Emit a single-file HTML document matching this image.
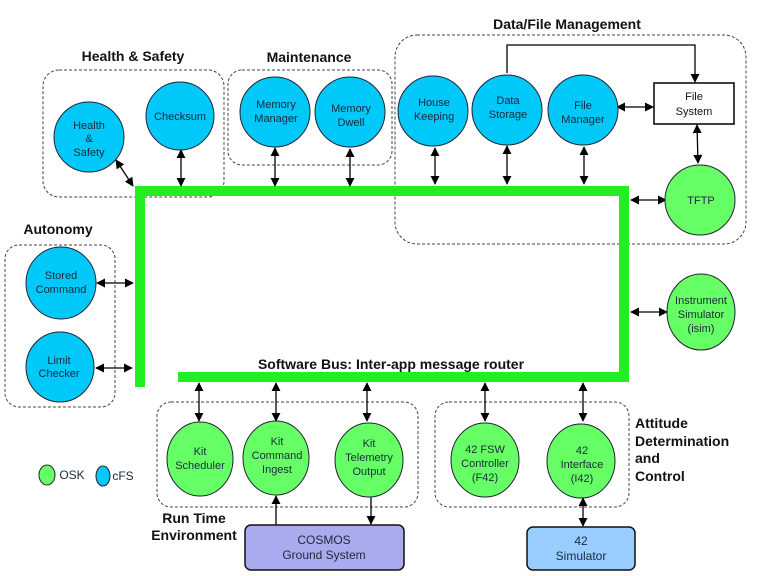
<!DOCTYPE html>
<html><head><meta charset="utf-8"><style>
html,body{margin:0;padding:0;background:#fff}
svg{display:block}
text{font-family:"Liberation Sans",Arial,sans-serif}
.n{font-size:11px;fill:#1a2a3a;text-anchor:middle}
.t{font-size:14px;font-weight:bold;fill:#111}
.g{fill:none;stroke:#444;stroke-width:1;stroke-dasharray:3,2}
.b{fill:#00c8f8;stroke:#223;stroke-width:1}
.o{fill:#66ff66;stroke:#223;stroke-width:1}
.a{stroke:#000;stroke-width:1.3;fill:none;marker-start:url(#h);marker-end:url(#h)}
.s{stroke:#000;stroke-width:1.3;fill:none;marker-end:url(#h)}
</style></head><body>
<svg width="773" height="576" viewBox="0 0 773 576" xmlns="http://www.w3.org/2000/svg">
<defs><marker id="h" viewBox="0 0 10 10" refX="9" refY="5" markerWidth="7" markerHeight="7" orient="auto-start-reverse"><path d="M0,0L10,5L0,10z" fill="#000"/></marker></defs>

<!-- group boxes -->
<rect class="g" x="43" y="70" width="181" height="127" rx="16"/>
<rect class="g" x="228" y="70" width="164" height="95" rx="14"/>
<rect class="g" x="395" y="35" width="351" height="209" rx="22"/>
<rect class="g" x="5" y="245" width="110" height="162" rx="14"/>
<rect class="g" x="157" y="402" width="261" height="105" rx="14"/>
<rect class="g" x="435" y="402" width="194" height="105" rx="14"/>

<!-- titles -->
<text class="t" x="133" y="61" text-anchor="middle">Health &amp; Safety</text>
<text class="t" x="309" y="62" text-anchor="middle">Maintenance</text>
<text class="t" x="567" y="29" text-anchor="middle">Data/File Management</text>
<text class="t" x="58" y="234" text-anchor="middle">Autonomy</text>
<text class="t" x="391" y="369" text-anchor="middle">Software Bus: Inter-app message router</text>
<text class="t" x="635" y="428">Attitude</text>
<text class="t" x="635" y="446">Determination</text>
<text class="t" x="635" y="463">and</text>
<text class="t" x="635" y="481">Control</text>
<text class="t" x="194" y="523" text-anchor="middle">Run Time</text>
<text class="t" x="194" y="540" text-anchor="middle">Environment</text>

<!-- bus -->
<path d="M140,387 V191 H624 V382 M178,377 H629" stroke="#22ee22" stroke-width="10" fill="none"/>

<!-- arrows -->
<line class="a" x1="116" y1="160" x2="133" y2="186"/>
<line class="a" x1="181" y1="150" x2="181" y2="186"/>
<line class="a" x1="275" y1="148" x2="275" y2="186"/>
<line class="a" x1="350" y1="149" x2="350" y2="186"/>
<line class="a" x1="435" y1="148" x2="435" y2="184"/>
<line class="a" x1="507" y1="146" x2="507" y2="184"/>
<line class="a" x1="584" y1="147" x2="584" y2="184"/>
<line class="a" x1="617" y1="107" x2="653" y2="107"/>
<line class="a" x1="697" y1="125" x2="698" y2="163"/>
<line class="a" x1="631" y1="200" x2="666" y2="200"/>
<line class="a" x1="631" y1="312" x2="667" y2="312"/>
<line class="a" x1="97" y1="283" x2="133" y2="283"/>
<line class="a" x1="96" y1="368" x2="132" y2="368"/>
<line class="a" x1="199" y1="383" x2="199" y2="421"/>
<line class="a" x1="276" y1="383" x2="276" y2="421"/>
<line class="a" x1="367" y1="383" x2="367" y2="421"/>
<line class="a" x1="485" y1="383" x2="485" y2="421"/>
<line class="a" x1="583" y1="383" x2="583" y2="421"/>
<line class="a" x1="583" y1="498" x2="583" y2="526"/>
<path class="s" d="M507,73 V45 H695 V82"/>
<line class="s" x1="276" y1="525" x2="276" y2="496"/>
<line class="s" x1="371" y1="497" x2="371" y2="524"/>

<!-- nodes blue -->
<circle class="b" cx="89" cy="137" r="35"/>
<text class="n" x="89" y="129">Health</text><text class="n" x="89" y="142">&amp;</text><text class="n" x="89" y="156">Safety</text>
<circle class="b" cx="180" cy="116" r="34"/>
<text class="n" x="180" y="120">Checksum</text>
<circle class="b" cx="275" cy="112" r="35"/>
<text class="n" x="276" y="108">Memory</text><text class="n" x="276" y="122">Manager</text>
<circle class="b" cx="350" cy="112" r="35"/>
<text class="n" x="351" y="112">Memory</text><text class="n" x="351" y="126">Dwell</text>
<circle class="b" cx="433" cy="111" r="35"/>
<text class="n" x="434" y="106">House</text><text class="n" x="434" y="120">Keeping</text>
<circle class="b" cx="507" cy="110" r="35"/>
<text class="n" x="508" y="104">Data</text><text class="n" x="508" y="118">Storage</text>
<circle class="b" cx="583" cy="110" r="35"/>
<text class="n" x="583" y="109">File</text><text class="n" x="583" y="123">Manager</text>
<ellipse class="b" cx="61" cy="283" rx="35" ry="36"/>
<text class="n" x="61" y="279">Stored</text><text class="n" x="61" y="293">Command</text>
<ellipse class="b" cx="60" cy="367" rx="34" ry="35"/>
<text class="n" x="59" y="364">Limit</text><text class="n" x="59" y="377">Checker</text>

<!-- file system -->
<rect x="654" y="83" width="80" height="41" fill="#fff" stroke="#000" stroke-width="1.5"/>
<text class="n" x="694" y="100" style="fill:#111">File</text><text class="n" x="694" y="115" style="fill:#111">System</text>

<!-- green nodes -->
<circle class="o" cx="700" cy="200" r="35"/>
<text class="n" x="701" y="204">TFTP</text>
<ellipse class="o" cx="701" cy="312" rx="34" ry="38"/>
<text class="n" x="701" y="304">Instrument</text><text class="n" x="701" y="318">Simulator</text><text class="n" x="701" y="332">(isim)</text>
<ellipse class="o" cx="200" cy="459" rx="33" ry="37"/>
<text class="n" x="200" y="455">Kit</text><text class="n" x="200" y="469">Scheduler</text>
<ellipse class="o" cx="276" cy="458" rx="33" ry="37"/>
<text class="n" x="277" y="445">Kit</text><text class="n" x="277" y="459">Command</text><text class="n" x="277" y="473">Ingest</text>
<ellipse class="o" cx="369" cy="460" rx="34" ry="37"/>
<text class="n" x="369" y="447">Kit</text><text class="n" x="369" y="461">Telemetry</text><text class="n" x="369" y="475">Output</text>
<ellipse class="o" cx="485" cy="460" rx="34" ry="37"/>
<text class="n" x="485" y="453">42 FSW</text><text class="n" x="485" y="467">Controller</text><text class="n" x="485" y="481">(F42)</text>
<ellipse class="o" cx="581" cy="461" rx="34" ry="37"/>
<text class="n" x="582" y="454">42</text><text class="n" x="582" y="468">Interface</text><text class="n" x="582" y="482">(I42)</text>

<!-- bottom boxes -->
<rect x="245" y="525" width="159" height="45" rx="6" fill="#aaaaee" stroke="#111" stroke-width="1.5"/>
<text class="n" x="324" y="544" style="font-size:12px">COSMOS</text><text class="n" x="324" y="559" style="font-size:12px">Ground System</text>
<rect x="527" y="527" width="108" height="43" rx="6" fill="#99ccff" stroke="#111" stroke-width="1.5"/>
<text class="n" x="581" y="545" style="font-size:12px">42</text><text class="n" x="581" y="560" style="font-size:12px">Simulator</text>

<!-- legend -->
<ellipse class="o" cx="47" cy="475" rx="8" ry="10"/>
<text class="n" x="72" y="479" style="font-size:12px">OSK</text>
<ellipse class="b" cx="103" cy="476" rx="7" ry="10"/>
<text class="n" x="123" y="480" style="font-size:12px">cFS</text>
</svg>
</body></html>
